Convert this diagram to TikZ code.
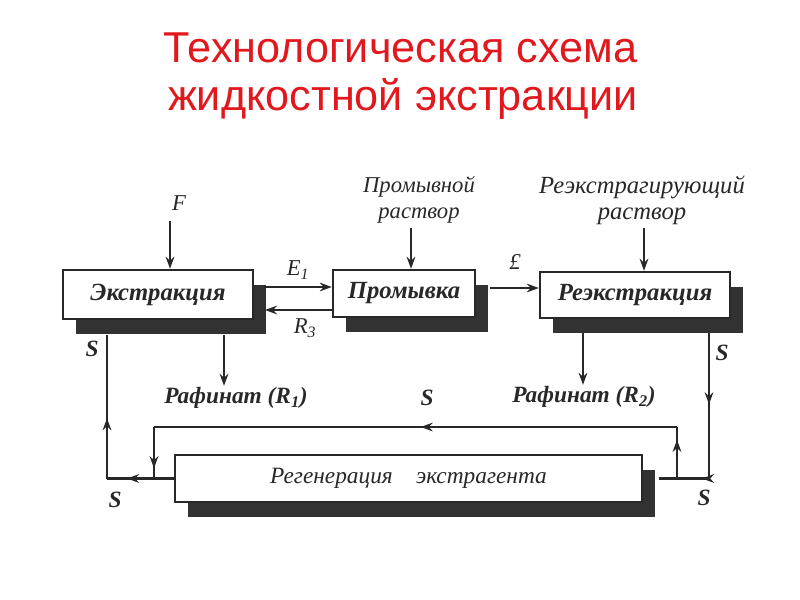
\documentclass[tikz,border=0pt]{standalone}
\usepackage{fontspec}
\setmainfont{Liberation Serif}
\newfontfamily\titlefont{Liberation Sans}
\usetikzlibrary{arrows.meta,shadows,decorations.markings}
\definecolor{titlered}{RGB}{225,25,30}
\definecolor{ink}{RGB}{40,40,40}
\definecolor{shade}{RGB}{50,50,50}
\begin{document}
\begin{tikzpicture}[x=0.75pt,y=-0.75pt,
  proc/.style={draw=ink, line width=1.8pt, fill=white, inner sep=0pt,
    font=\bfseries\itshape\fontsize{18.5}{21}\selectfont, text=ink,
    drop shadow={shadow xshift=9.5pt, shadow yshift=-11.5pt, opacity=1, fill=shade}},
  lbl/.style={font=\itshape\fontsize{17}{19.5}\selectfont, text=ink, inner sep=1pt},
  blbl/.style={font=\bfseries\itshape\fontsize{17.5}{20}\selectfont, text=ink, inner sep=1pt},
  ttl/.style={font=\titlefont\fontsize{32.4}{38}\selectfont, text=titlered, inner sep=0pt, anchor=base},
  arr/.style={draw=ink, line width=1.6pt, -{Stealth[length=9pt,width=6.5pt]}},
  flow/.style={draw=ink, line width=1.6pt},
  midarr/.style={postaction={decorate, decoration={markings,
    mark=at position #1 with {\arrow{Stealth[length=9pt,width=6.5pt]}}}}}
]
\useasboundingbox (0,0) rectangle (800,600);

% title
\node[ttl] (t1) at (400.5,62) {Технологическая схема};
\node[ttl] (t2) at (403,110) {жидкостной экстракции};

% process boxes
\node[proc, minimum width=142.5pt, minimum height=36.75pt] (b1) at (158,294.5) {Экстракция};
\node[proc, minimum width=106.5pt, minimum height=35.25pt] (b2) at (404,293.5) {Промывка};
\node[proc, minimum width=142.5pt, minimum height=34.5pt] (b3) at (635,295) {Реэкстракция};
\node[proc, minimum width=350.25pt, minimum height=35.25pt,
  font=\itshape\fontsize{17.5}{20}\selectfont] (rg) at (408.5,478.5) {Регенерация\quad экстрагента};

% labels
\node[lbl] (F) at (179,203) {F};
\node[lbl, align=center] (pw) at (419,200) {Промывной\\раствор};
\node[lbl, align=center, font=\itshape\fontsize{18.5}{19.5}\selectfont] (rr) at (642,200) {Реэкстрагирующий\\раствор};
\node[lbl] (E1) at (298,270) {E\textsubscript{1}};
\node[lbl] (R3) at (305,328) {R\textsubscript{3}};
\node[lbl] (E2) at (515,262) {£};
\node[blbl] (raf1) at (236,398) {Рафинат (R\textsubscript{1})};
\node[blbl] (raf2) at (584,397) {Рафинат (R\textsubscript{2})};
\node[blbl] (s1) at (92,349) {S};
\node[blbl] (s2) at (115,500) {S};
\node[blbl] (s3) at (427,398) {S};
\node[blbl] (s4) at (722,353) {S};
\node[blbl] (s5) at (704,498) {S};

% feed arrows
\coordinate (fs) at (170,221);
\coordinate (ws) at (411,228);
\coordinate (rs) at (644,228);
\draw[arr] (fs) -- (fs |- b1.north);
\draw[arr] (ws) -- (ws |- b2.north);
\draw[arr] (rs) -- (rs |- b3.north);

% streams between boxes
\coordinate (e1) at (264,287);
\coordinate (r3) at (265,310);
\coordinate (e2) at (490,288);
\draw[arr] (e1) -- (e1 -| b2.west);
\draw[arr] (r3 -| b2.west) -- (r3);
\draw[arr] (e2) -- (e2 -| b3.west);

% raffinates
\coordinate (r1) at (224,335);
\coordinate (r2) at (583,333);
\draw[arr] (r1) -- (r1 |- raf1.north);
\draw[arr] (r2) -- (r2 |- raf2.north);

% solvent loop, left
\coordinate (ls) at (107,335);
\draw[flow, midarr=0.7] (rg.west) -- (rg.west -| ls);
\draw[flow, midarr=0.42] (rg.west -| ls) -- (ls);

% solvent loop, top return
\coordinate (tr) at (677,427);
\coordinate (tl) at (154,427);
\draw[flow, midarr=0.75] (tr |- rg.east) -- (tr);
\draw[flow, midarr=0.49] (tr) -- (tl);
\draw[flow, midarr=0.8] (tl) -- (tl |- rg.west);

% solvent from re-extraction
\coordinate (rsd) at (709,333);
\draw[flow, midarr=0.49] (rsd) -- (rsd |- rg.east);
\draw[flow, midarr=0.14] (rsd |- rg.east) -- ([xshift=12pt]rg.east);
\end{tikzpicture}
\end{document}
